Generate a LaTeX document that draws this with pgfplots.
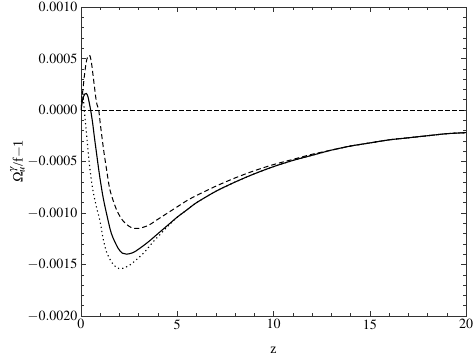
\documentclass[border=0pt]{standalone}
\usepackage{mathptmx}
\usepackage{fontspec}
\setmainfont{Liberation Serif}
\usepackage{pgfplots}
\pgfplotsset{compat=1.18}
\begin{document}
\begin{tikzpicture}
\begin{axis}[
  name=ax,
  scale only axis,
  width=385pt, height=309pt,
  xmin=0, xmax=20, ymin=-0.002, ymax=0.001,
  xtick={0,5,10,15,20},
  ytick={-0.002,-0.0015,-0.001,-0.0005,0,0.0005,0.001},
  minor x tick num=4, minor y tick num=4,
  tick align=inside,
  major tick length=5pt, minor tick length=3pt,
  scaled y ticks=false,
  yticklabel style={/pgf/number format/.cd,fixed,fixed zerofill,precision=4},
  tick label style={font=\fontsize{14}{16}\selectfont},
  label style={font=\fontsize{14}{16}\selectfont},
  xlabel={z},
  ylabel={$\Omega_u^{\gamma}$/f$-$1},
  xlabel style={at={(axis description cs:0.5,-0.11)},anchor=center},
  ylabel style={at={(axis description cs:-0.165,0.5)},anchor=center},
  axis line style={black!80, line width=0.6pt},
  every tick/.style={black!80, line width=0.5pt},
  clip=true,
]
% zero line
\addplot[black, line width=0.8pt, dash pattern=on 5pt off 2pt] coordinates {(0,0) (20,0)};
% solid
\addplot[black, line width=1.1pt, smooth, tension=0.5] coordinates {
(0,0) (0.1,0.00011) (0.2,0.000155) (0.28,0.00016) (0.36,0.00013) (0.44,0.00006)
(0.5,0) (0.6,-0.00012) (0.7,-0.00027) (0.8,-0.00041) (0.9,-0.00055) (1.0,-0.00068)
(1.15,-0.00085) (1.32,-0.001) (1.58,-0.0012) (1.92,-0.00134) (2.15,-0.00139)
(2.37,-0.0014) (2.7,-0.001385) (3.0,-0.00135) (3.5,-0.00128) (4.0,-0.0012)
(4.5,-0.00112) (5.0,-0.00104) (5.5,-0.00097) (6.0,-0.0009) (7.0,-0.00079)
(8.0,-0.0007) (9.0,-0.00062) (10,-0.00055) (11,-0.00049) (12,-0.00044)
(13,-0.00039) (14,-0.00035) (15,-0.00032) (16,-0.00029) (17,-0.00027)
(18,-0.00025) (19,-0.00023) (20,-0.00022)
};
% dashed
\addplot[black, line width=1.0pt, dash pattern=on 5pt off 3pt, smooth, tension=0.5] coordinates {
(0,0) (0.1,0.0002) (0.2,0.00037) (0.3,0.00049) (0.4,0.00053) (0.47,0.000525)
(0.55,0.00045) (0.65,0.0003) (0.8,0.00008) (0.92,0) (1.0,-0.00013) (1.1,-0.00028)
(1.2,-0.00042) (1.33,-0.00058) (1.51,-0.00078) (1.85,-0.00097) (2.2,-0.00108)
(2.6,-0.00114) (2.98,-0.00115) (3.5,-0.00112) (4.0,-0.00106) (4.5,-0.001)
(5.0,-0.00094) (5.5,-0.00088) (6.0,-0.00083) (7.0,-0.00074) (8.0,-0.00066)
(9.0,-0.00059) (10,-0.00053) (11,-0.00048) (12,-0.00043) (13,-0.00039)
(14,-0.00035) (15,-0.00032) (16,-0.00029) (17,-0.00027) (18,-0.00025)
(19,-0.00023) (20,-0.00022)
};
% dotted
\addplot[black, line width=1.1pt, dash pattern=on 1.2pt off 3pt, smooth, tension=0.5] coordinates {
(0,0) (0.04,0.00012) (0.08,0.00018) (0.12,0.00012) (0.17,0) (0.22,-0.0001)
(0.3,-0.00026) (0.38,-0.00042) (0.45,-0.00055) (0.6,-0.00076) (0.8,-0.00094)
(0.99,-0.00108) (1.15,-0.00125) (1.33,-0.00138) (1.6,-0.00148) (1.85,-0.00153)
(2.11,-0.00154) (2.5,-0.00151) (2.9,-0.00145) (3.3,-0.00138) (3.7,-0.00129)
(4.1,-0.00121) (4.5,-0.00113) (5.0,-0.00104) (5.5,-0.00097) (6.0,-0.0009)
(7.0,-0.00079) (8.0,-0.0007) (9.0,-0.00062) (10,-0.00055) (11,-0.00049)
(12,-0.00044) (13,-0.00039) (14,-0.00035) (15,-0.00032) (16,-0.00029)
(17,-0.00027) (18,-0.00025) (19,-0.00023) (20,-0.00022)
};
\end{axis}
\pgfresetboundingbox
\path ([shift={(-81pt,-47pt)}]ax.south west) rectangle ([shift={(8pt,7pt)}]ax.north east);
\end{tikzpicture}
\end{document}
